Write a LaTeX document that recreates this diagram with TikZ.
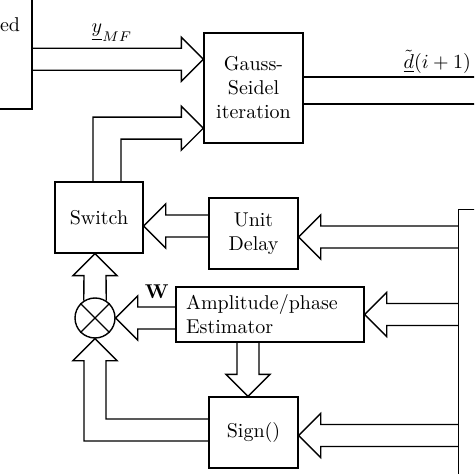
\documentclass[tikz,border=0pt]{standalone}
\usepackage{tikz}
\usepackage{amsmath}
\usetikzlibrary{calc}

\newcommand{\fatleft}[2]{\draw ($(#2 |- #1)+(0,-11)$) -- ($(#1)+(22,-11)$) -- ++(0,-11) -- (#1) -- ++(22,22) -- ++(0,-11) -- ($(#2 |- #1)+(0,11)$);}
\newcommand{\fatright}[2]{\draw ($(#2 |- #1)+(0,-11)$) -- ($(#1)+(-22,-11)$) -- ++(0,-11) -- (#1) -- ++(-22,22) -- ++(0,-11) -- ($(#2 |- #1)+(0,11)$);}
\newcommand{\fatdown}[2]{\draw ($(#2 -| #1)+(-11,0)$) -- ($(#1)+(-11,-22)$) -- ++(-11,0) -- (#1) -- ++(22,-22) -- ++(-11,0) -- ($(#2 -| #1)+(11,0)$);}

\begin{document}
\begin{tikzpicture}[x=0.5pt,y=-0.5pt,line width=0.7pt]
			\tikzstyle{every node}+=[inner sep=0pt]
			\tikzstyle{box}=[draw, rectangle, align=center]
			\useasboundingbox (0,0) rectangle (474,474);
			\clip (0,0) rectangle (474,474);
			\node [box, minimum width=22pt, minimum height=84pt] (mf) at (10,25) {ed};
			\node [box, minimum width=49.5pt, minimum height=55pt] (gs) at (253.5,88) {Gauss-\\Seidel\\iteration};
			\node [box, minimum width=44pt, minimum height=35.5pt] (sw) at (99,217.5) {Switch};
			\node [box, minimum width=44.5pt, minimum height=35.5pt] (ud) at (253.5,233.5) {Unit\\Delay};
			\node [box, minimum width=94pt, minimum height=27.5pt, text width=84pt, align=left] (est) at (270,314.5) {Amplitude/phase\\Estimator};
			\node [box, minimum width=44.5pt, minimum height=35.5pt] (sg) at (253.5,432.5) {Sign()};
			\node [box, minimum width=50pt, minimum height=150pt, anchor=north west] (rbar) at (458,209) {};
			\node [draw, circle, minimum size=20pt] (mult) at (95,318) {};
			\draw (mult.45) -- (mult.225) (mult.135) -- (mult.-45);
			\coordinate (gsin) at ($(gs.north west)+(0,27)$);
			\coordinate (gsin2) at ($(gs.south west)+(0,-15.5)$);
			\coordinate (swin) at ($(sw.east)+(0,8.5)$);
			\coordinate (udin) at ($(ud.east)+(0,3.5)$);
			\coordinate (sgin) at ($(sg.north)+(-5.5,0)$);
			\coordinate (sgr) at ($(sg.east)+(0,3)$);
			\fatright{gsin}{mf.east}
			\draw (112,33) node (ymf) {$\underline{y}_{MF}$};
			\draw ($(sw.north)+(-6,0)$) |- ($(gsin2)+(-22,-11)$) -- ++(0,-11) -- (gsin2) -- ++(-22,22) -- ++(0,-11) -| ($(sw.north)+(22,0)$);
			\draw ($(gs.east)+(0,-11)$) -- ++(180,0);
			\draw ($(gs.east)+(0,16)$) -- ++(180,0);
			\draw (403,62) node [anchor=west] (dout) {$\tilde{\underline{d}}(i+1)$};
			\fatleft{swin}{ud.west}
			\fatleft{udin}{rbar.west}
			\fatleft{est.east}{rbar.west}
			\fatleft{mult.east}{est.west}
			\draw (157,292) node (w) {$\mathbf{W}$};
			\fatdown{sgin}{est.south}
			\fatleft{sgr}{rbar.west}
			\draw (mult.123) -- ($(mult.north |- sw.south)+(-11,22)$) -- ++(-11,0) -- (mult.north |- sw.south) -- ++(22,22) -- ++(-11,0) -- (mult.57);
			\draw ($(sg.west)+(0,-13.5)$) -| ($(mult.south)+(11,22)$) -- ++(11,0) -- (mult.south) -- ++(-22,22) -- ++(11,0) |- ($(sg.west)+(0,8.5)$);
		\end{tikzpicture}
\end{document}
